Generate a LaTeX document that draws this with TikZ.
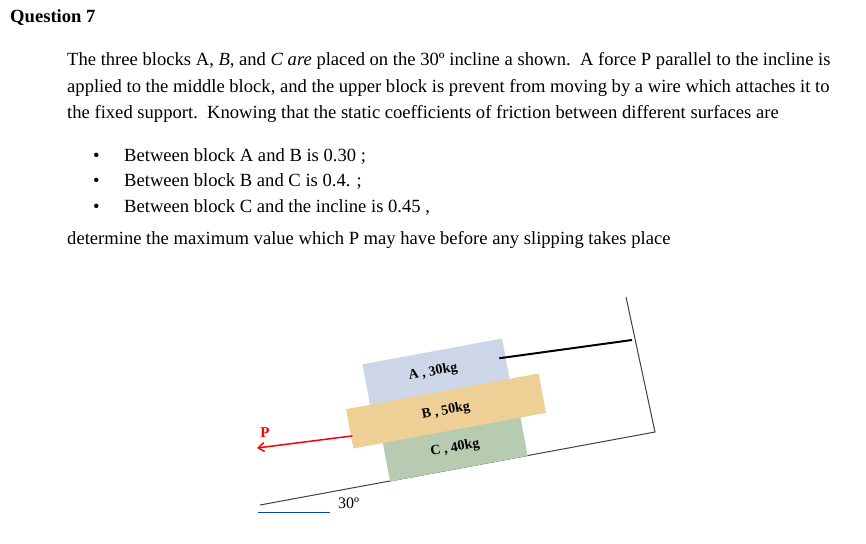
\documentclass[tikz,border=0pt]{standalone}
\usepackage{fontspec}
\usetikzlibrary{arrows.meta}
\setmainfont{Liberation Serif}
\begin{document}
\begin{tikzpicture}[x=1pt,y=-1pt,
 txt/.style={anchor=base west,inner sep=0pt,font=\fontsize{18.6}{20}\selectfont},
 blk/.style={draw=none,rotate=10.5,inner sep=0pt,font=\bfseries\fontsize{14}{16}\selectfont},
 ln/.style={line width=1pt,draw=black!75}]
\useasboundingbox (0,0) rectangle (866,543);
\node[txt,font=\bfseries\fontsize{18.6}{20}\selectfont] (q) at (10,23) {Question 7};
\node[txt] (l1) at (67,66) {The three blocks A, \textit{B}, and \textit{C are} placed on the 30º incline a shown.\ \ A force P parallel to the incline is};
\node[txt] (l2) at (67,92) {applied to the middle block, and the upper block is prevent from moving by a wire which attaches it to};
\node[txt] (l3) at (67,118) {the fixed support.\ \ Knowing that the static coefficients of friction between different surfaces are};
\foreach \y/\t [count=\i] in {161/{Between block A and B is 0.30 ;},186/{Between block B and C is 0.4. ;},212/{Between block C and the incline is 0.45 ,}}{
 \node[txt] (bd\i) at (93,\y) {•};
 \node[txt] (b\i) at (124,\y) {\t};}
\node[txt] (l4) at (67,244) {determine the maximum value which P may have before any slipping takes place};
% incline
\coordinate (i0) at (260,505);
\coordinate (i1) at (655,432);
\coordinate (i2) at (626,297);
\coordinate (w1) at (632,340);
\draw[ln] (i0) -- (i1) -- (i2);
\draw[draw=blue!60!cyan!70!black,line width=0.7pt] (258,512) -- (330,512);
\node[anchor=base west,inner sep=0pt,font=\fontsize{16}{18}\selectfont] (ang) at (338,508) {30º};
% blocks
\node[blk,fill={rgb,255:red,183;green,203;blue,176},minimum width=140,minimum height=42] (C) at (455,448) {C , 40kg};
\node[blk,fill={rgb,255:red,205;green,214;blue,232},minimum width=142,minimum height=52] (A) at (437,377) {};
\node[blk,anchor=center] (At) at (433,372) {A , 30kg};
\node[blk,fill={rgb,255:red,238;green,208;blue,150},minimum width=196,minimum height=40] (B) at (446,411) {B , 50kg};
\draw[line width=2pt] (A.north east) ++(-3,20) coordinate (wa) -- (w1);
\draw[red,line width=1.5pt,-{Straight Barb[length=6pt,width=9pt]}] (B.west) ++(3,7) -- (257,448);
\node[anchor=base,inner sep=0pt,text=red,font=\bfseries\fontsize{15}{16}\selectfont] (P) at (265,437) {P};
\end{tikzpicture}
\end{document}
